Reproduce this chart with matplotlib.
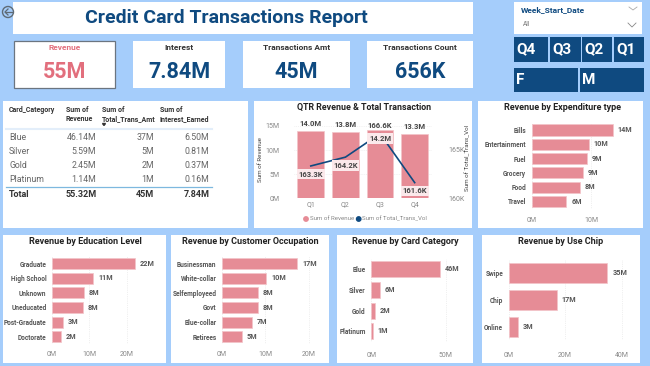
import matplotlib
matplotlib.use("Agg")
import matplotlib.pyplot as plt
from matplotlib.patches import Rectangle, Circle, Polygon

plt.rcParams['font.family'] = ['Roboto', 'DejaVu Sans']

BG = "#A5CDFB"
NAVY = "#0F4A80"
PINK = "#E68C96"
GREY = "#555555"
LIGHT = "#8A8A8A"

# kpi cards
kpi_names = ["Revenue", "Interest", "Transactions Amt", "Transactions Count"]
kpi_values = ["55M", "7.84M", "45M", "656K"]

# table
table_cats = ["Blue", "Silver", "Gold", "Platinum"]
table_rev = ["46.14M", "5.59M", "2.45M", "1.14M"]
table_amt = ["37M", "5M", "2M", "1M"]
table_int = ["6.50M", "0.81M", "0.37M", "0.16M"]
table_total = ["Total", "55.32M", "45M", "7.84M"]

# combo chart
quarters = ["Q1", "Q2", "Q3", "Q4"]
qtr_revenue = [14.0, 13.8, 14.2, 13.3]
qtr_trans = [163.3, 164.2, 166.6, 161.6]

# bar panels
exp_names = ["Bills", "Entertainment", "Fuel", "Grocery", "Food", "Travel"]
exp_values = [13.6, 9.6, 9.2, 8.6, 8.1, 5.8]
edu_names = ["Graduate", "High School", "Unknown", "Uneducated", "Post-Graduate", "Doctorate"]
edu_values = [22.2, 11.1, 8.5, 8.2, 2.9, 2.4]
occ_names = ["Businessman", "White-collar", "Selfemployeed", "Govt", "Blue-collar", "Retirees"]
occ_values = [17.4, 10.2, 8.3, 8.2, 7.0, 4.6]
card_names = ["Blue", "Silver", "Gold", "Platinum"]
card_values = [46.14, 5.59, 2.45, 1.14]
chip_names = ["Swipe", "Chip", "Online"]
chip_values = [35.0, 17.0, 3.4]

fig = plt.figure(figsize=(6.5, 3.66), dpi=100, facecolor=BG)
W, H = 650, 366

# background layer in pixels, y going down
bg = fig.add_axes([0, 0, 1, 1])
bg.set_xlim(0, W)
bg.set_ylim(H, 0)
bg.axis("off")


def panel(x0, y0, x1, y1, **kw):
    bg.add_patch(Rectangle((x0, y0), x1 - x0, y1 - y0, facecolor=kw.pop("fc", "white"), edgecolor="none", **kw))


def txt(x, y, s, size=6, color=GREY, weight="normal", ha="left", **kw):
    bg.text(x, y, s, fontsize=size, color=color, fontweight=weight, ha=ha, va="center", **kw)


# header
panel(13, 2, 473, 34)
txt(226, 18, "Credit Card Transactions Report", size=14, color=NAVY, weight="bold", ha="center")
bg.add_patch(Circle((8, 12), 5.5, facecolor="none", edgecolor="#5F6B76", linewidth=1))
bg.plot([5, 12], [12, 12], color="#5F6B76", linewidth=0.9)
bg.plot([8, 5, 8], [9, 12, 15], color="#5F6B76", linewidth=0.9)

# kpi cards
card_x = [(14, 115), (133, 225), (243, 350), (367, 473)]
for i in range(4):
    x0, x1 = card_x[i]
    panel(x0, 41, x1, 88)
    col = "#E26F7D" if i == 0 else NAVY
    tcol = "#E26F7D" if i == 0 else "#333333"
    txt((x0 + x1) / 2, 47, kpi_names[i], size=6, color=tcol, weight="bold", ha="center")
    txt((x0 + x1) / 2, 72, kpi_values[i], size=15.5, color=col, weight="bold", ha="center")
bg.add_patch(Rectangle((14, 41), 101, 47, facecolor="none", edgecolor="#6B7580", linewidth=0.9))

# slicer and buttons
panel(514, 2, 642, 34)
txt(521, 10, "Week_Start_Date", size=6, color=NAVY, weight="bold")
txt(523, 25, "All", size=4.8, color="#777777")
bg.plot([629, 633, 637], [7, 10, 7], color="#AAAAAA", linewidth=0.6)
bg.plot([628, 632, 636], [23, 27, 23], color="#888888", linewidth=0.6)
button_names = ["Q4", "Q3", "Q2", "Q1", "F", "M"]
button_x = [(514, 548), (550, 581), (582, 612), (614, 644), (514, 578), (580, 644)]
for i in range(6):
    x0, x1 = button_x[i]
    y0, y1 = (37, 62) if i < 4 else (68, 92)
    panel(x0, y0, x1, y1, fc=NAVY)
    txt(x0 + 2, (y0 + y1) / 2, button_names[i], size=11, color="white", weight="bold")

# table
panel(3, 101, 248, 228)
col_left = [9, 65.7, 101.7, 159.7]
col_right = [96.3, 154.3, 209.3]
txt(col_left[0], 110.5, "Card_Category", size=5, color="#333333", weight="bold")
head1 = ["Sum of", "Sum of", "Sum of"]
head2 = ["Revenue", "Total_Trans_Amt", "Interest_Earned"]
for i in range(3):
    txt(col_left[i + 1], 110, head1[i], size=5, color="#333333", weight="bold")
    txt(col_left[i + 1], 119, head2[i], size=5, color="#333333", weight="bold")
bg.add_patch(Polygon([(102.5, 123.5), (105.5, 123.5), (104, 125.5)], color="#333333"))
bg.plot([6, 212], [129, 129], color="#E3EEFA", linewidth=1.5)
bg.plot([6, 212], [186.7, 186.7], color="#7DB8DF", linewidth=0.9)
row_y = [137, 151, 165.3, 179.5]
for i in range(4):
    txt(col_left[0], row_y[i], table_cats[i], size=6.3, color="#666666")
    txt(col_right[0], row_y[i], table_rev[i], size=6.3, color="#666666", ha="right")
    txt(col_right[1], row_y[i], table_amt[i], size=6.3, color="#666666", ha="right")
    txt(col_right[2], row_y[i], table_int[i], size=6.3, color="#666666", ha="right")
txt(col_left[0], 194.5, table_total[0], size=6.5, color="#333333", weight="bold")
for i in range(3):
    txt(col_right[i], 194.5, table_total[i + 1], size=6.5, color="#333333", weight="bold", ha="right")


def new_axes(left, top, right, bottom):
    ax = fig.add_axes([left / W, 1 - bottom / H, (right - left) / W, (bottom - top) / H])
    ax.patch.set_alpha(0)
    for s in ax.spines.values():
        s.set_visible(False)
    return ax


# combo chart
panel(254, 101, 472, 228)
txt(364.5, 107, "QTR Revenue & Total Transaction", size=6.4, color="#222222", weight="bold", ha="center")
zero_y = 198.3
ax = new_axes(293.5, 120, 432, zero_y)
ax.bar(quarters, qtr_revenue, width=0.77, color=PINK, edgecolor="#F3C4C9", linewidth=0.5, zorder=2)
ax.set_xlim(-0.5, 3.5)
ax.set_ylim(0, (zero_y - 120) / 4.82)
ax.set_yticks([0, 5, 10, 15])
ax.set_yticklabels(["0M", "5M", "10M", "15M"])
ax.tick_params(axis="both", length=0, labelsize=5, labelcolor=LIGHT, pad=2)
ax.tick_params(axis="y", pad=10)
ax.grid(axis="y", color="#E6E6E6", linestyle=":", linewidth=0.5, zorder=0)
ax2 = ax.twinx()
ax2.patch.set_alpha(0)
for s in ax2.spines.values():
    s.set_visible(False)
ax2.plot(quarters, qtr_trans, color=NAVY, linewidth=1.2, zorder=3)
ax2.set_ylim(160, 160 + (zero_y - 120) / 9.8)
ax2.set_yticks([160, 165])
ax2.set_yticklabels(["160K", "165K"])
ax2.tick_params(axis="y", length=0, labelsize=5, labelcolor=LIGHT, pad=12)
box = dict(facecolor="#FBE9EB", edgecolor="none", pad=1.2)
for i in range(4):
    if i == 2:
        ax2.annotate(f"{qtr_revenue[i]:.1f}M", (i, qtr_trans[i]), xytext=(0, -3.5), textcoords="offset points",
                     ha="center", va="center", fontsize=5.5, fontweight="bold", color="#444444", bbox=box, zorder=4)
        ax2.annotate(f"{qtr_trans[i]:.1f}K", (i, qtr_trans[i]), xytext=(0, 6), textcoords="offset points",
                     ha="center", va="center", fontsize=5.5, fontweight="bold", color="#444444", zorder=4)
    else:
        ax.annotate(f"{qtr_revenue[i]:.1f}M", (i, qtr_revenue[i]), xytext=(0, 3), textcoords="offset points",
                    ha="center", va="bottom", fontsize=5.5, fontweight="bold", color="#444444")
        ax2.annotate(f"{qtr_trans[i]:.1f}K", (i, qtr_trans[i]), xytext=(0, -6), textcoords="offset points",
                     ha="center", va="center", fontsize=5.5, fontweight="bold", color="#444444", bbox=box, zorder=4)
txt(261, 159, "Sum of Revenue", size=4.5, color="#444444", ha="center", rotation=90)
txt(468, 158, "Sum of Total_Trans_Vol", size=4.5, color="#444444", ha="center", rotation=90)
bg.add_patch(Circle((306, 219), 2.2, color=PINK))
txt(309.5, 219, "Sum of Revenue", size=4.4, color="#888888")
bg.add_patch(Circle((358.7, 219), 2.2, color=NAVY))
txt(362, 219, "Sum of Total_Trans_Vol", size=4.4, color="#888888")


def bar_panel(box, title, title_x, names, values, zero, scale, first, step, ticks, bar_frac, tick_y, right, size=4.7):
    x0, y0, x1, y1 = box
    panel(x0, y0, x1, y1)
    txt(title_x, y0 + 6, title, size=6.5, color="#222222", weight="bold", ha="center")
    top = first - step / 2
    bottom = first + (len(names) - 0.5) * step
    ax = new_axes(zero, top, right, bottom)
    ax.barh(names, values, height=bar_frac, color=PINK, edgecolor="#F3C4C9", linewidth=0.5, zorder=2)
    ax.set_ylim(len(names) - 0.5, -0.5)
    ax.set_xlim(0, (right - zero) / scale)
    ax.set_xticks(ticks)
    ax.set_xticklabels([f"{t}M" for t in ticks])
    ax.tick_params(axis="y", length=0, labelsize=size, labelcolor=GREY, pad=4)
    for lab in ax.get_yticklabels():
        lab.set_fontweight("bold")
    ax.tick_params(axis="x", length=0, labelsize=5, labelcolor=LIGHT, pad=tick_y - bottom - 4)
    ax.grid(axis="x", color="#E2E2E2", linestyle=":", linewidth=0.5, zorder=0)
    for i in range(len(names)):
        ax.annotate(f"{values[i]:.0f}M", (values[i], i), xytext=(3.5, 0), textcoords="offset points",
                    ha="left", va="center", fontsize=5.2, fontweight="bold", color=GREY)


bar_panel((478, 101, 643, 228), "Revenue by Expenditure type", 562.5, exp_names, exp_values,
          531.7, 5.96, 130, 14.3, [0, 10], 0.78, 219, 630)
bar_panel((3, 235, 166, 363), "Revenue by Education Level", 85, edu_names, edu_values,
          52, 3.73, 263.7, 14.6, [0, 10, 20], 0.76, 353, 155)
bar_panel((171, 235, 329, 363), "Revenue by Customer Occupation", 250, occ_names, occ_values,
          222, 4.33, 263.7, 14.6, [0, 10, 20], 0.76, 353, 318)
bar_panel((337, 235, 473, 363), "Revenue by Card Category", 405, card_names, card_values,
          371.3, 1.49, 269, 20.8, [0, 50], 0.76, 353, 456)
bar_panel((482, 235, 640, 363), "Revenue by Use Chip", 561, chip_names, chip_values,
          508.7, 2.82, 273.3, 26.7, [0, 20, 40], 0.75, 353, 632)

fig.savefig("out.png", dpi=100, facecolor=BG)
